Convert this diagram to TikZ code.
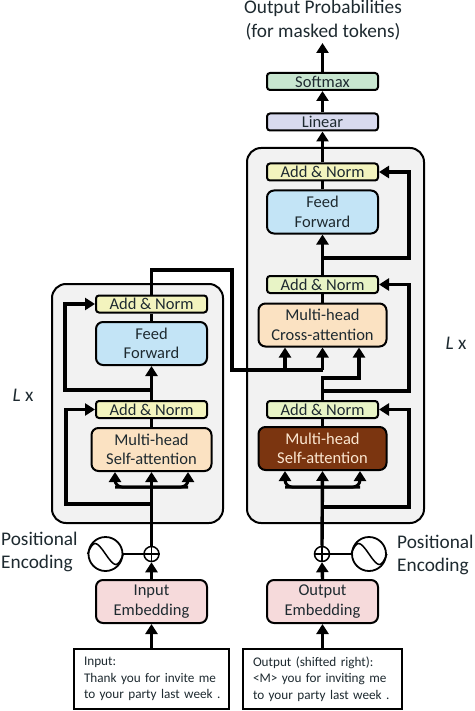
\documentclass[tikz,border=0pt]{standalone}
\usepackage{fontspec}
\setmainfont{Carlito}
\usetikzlibrary{arrows.meta}
\definecolor{contfill}{HTML}{F2F2F2}
\definecolor{anfillA}{HTML}{F3F4BE}
\definecolor{anfillB}{HTML}{E8F4C6}
\definecolor{ffill}{HTML}{C3E4F6}
\definecolor{afill}{HTML}{FBE2C2}
\definecolor{bfill}{HTML}{7B3510}
\definecolor{btext}{HTML}{FBE6D0}
\definecolor{efill}{HTML}{F6DADB}
\definecolor{sfill}{HTML}{C8E6D0}
\definecolor{lfill}{HTML}{D8DAEE}
\definecolor{ink}{HTML}{1E2A30}
\tikzset{
  box/.style={draw=black,line width=2pt,rounded corners=#1,inner sep=0pt,align=center,text=ink,
    font=\fontsize{16.5}{19.5}\selectfont},
  box/.default=7pt,
  sbox/.style={box=3pt,minimum width=111pt,minimum height=17pt},
  tbox/.style={box=7pt,minimum height=43pt},
  cont/.style={draw=black,line width=2pt,fill=contfill,rounded corners=14pt,inner sep=0pt},
  conn/.style={draw=black,line width=3.4pt},
  arr/.style={conn,-{Triangle[length=10pt,width=12pt]}},
  fork/.style={arr,line width=3pt,rounded corners=7pt},
  thin/.style={draw=black,line width=1.5pt},
  lab/.style={inner sep=0pt,text=ink,font=\fontsize{19.3}{23.5}\selectfont,align=left},
  inp/.style={draw=black,line width=1.6pt,fill=white,inner sep=0pt,align=left,text=ink,
    text width=#1,font=\fontsize{13.2}{16.3}\selectfont},
}
\begin{document}
\begin{tikzpicture}[x=1pt,y=-1pt]
\useasboundingbox (0,0) rectangle (474,711);
% containers
\node[cont,minimum width=171pt,minimum height=239pt] (contL) at (137.5,403.5) {};
\node[cont,minimum width=177pt,minimum height=375pt] (contR) at (335.5,335.5) {};
% left stack
\node[sbox,fill=anfillA] (anL2) at (151.5,304) {Add \& Norm};
\node[tbox,fill=ffill,minimum width=111pt] (ffL) at (151.5,343.5) {Feed\\Forward};
\node[sbox,fill=anfillA] (anL1) at (151.5,409.5) {Add \& Norm};
\node[tbox,fill=afill,minimum width=120pt] (saL) at (151.5,449.5) {Multi-head\\Self-attention};
\node[tbox,fill=efill,minimum width=111pt] (emL) at (151.5,601.5) {Input\\Embedding};
% right stack
\node[sbox,fill=sfill] (soft) at (322.5,81.5) {Softmax};
\node[sbox,fill=lfill] (lin) at (322.5,122) {Linear};
\node[sbox,fill=anfillA] (anR3) at (322.5,172) {Add \& Norm};
\node[tbox,fill=ffill,minimum width=111pt] (ffR) at (322.5,212) {Feed\\Forward};
\node[sbox,fill=anfillB] (anR2) at (322.5,284.5) {Add \& Norm};
\node[tbox,fill=afill,minimum width=128pt] (caR) at (322.5,325) {Multi-head\\Cross-attention};
\node[sbox,fill=anfillB] (anR1) at (322.5,409.5) {Add \& Norm};
\node[tbox,fill=bfill,minimum width=128pt,text=btext] (saR) at (322.5,448.5) {Multi-head\\Self-attention};
\node[tbox,fill=efill,minimum width=111pt] (emR) at (322.5,601.5) {Output\\Embedding};
% inputs
\node[inp=155pt,minimum height=60pt] (inL) at (151.5,679) {\hspace*{10pt}Input:\\\hspace*{10pt}Thank you for invite me\\\hspace*{10pt}to your party last week .};
\node[inp=159pt,minimum height=60pt] (inR) at (322.5,679) {\hspace*{10pt}Output (shifted right):\\\hspace*{10pt}<M> you for inviting me\\\hspace*{10pt}to your party last week .};
% positional encoding
\node[draw=black,line width=1.5pt,circle,fill=white,minimum size=15pt,inner sep=0pt] (plL) at (151.5,554) {};
\node[draw=black,line width=1.5pt,circle,fill=white,minimum size=15pt,inner sep=0pt] (plR) at (322,554) {};
\node[draw=black,line width=1.8pt,circle,fill=white,minimum size=34pt,inner sep=0pt] (sinL) at (105.5,554) {};
\node[draw=black,line width=1.8pt,circle,fill=white,minimum size=34pt,inner sep=0pt] (sinR) at (369,554) {};
% labels
\node[lab,anchor=west] (peL) at (1,552) {Positional\\Encoding};
\node[lab,anchor=west] (peR) at (397,555) {Positional\\Encoding};
\node[lab,anchor=center] (lxL) at (23,395) {\textit{L} x};
\node[lab,anchor=center] (lxR) at (456,343) {\textit{L} x};
\node[lab,align=center,anchor=center] (outp) at (323,20) {Output Probabilities\\(for masked tokens)};
% named bends
\coordinate (a1) at (151.5,504);
\coordinate (a2) at (66,504);
\coordinate (b1) at (151.5,390);
\coordinate (b2) at (65,390);
\coordinate (skA) at (151.5,270);
\coordinate (skB) at (232,270);
\coordinate (skC) at (232,370);
\coordinate (skD) at (322.5,370);
\coordinate (xa) at (285,370);
\coordinate (c1) at (322.5,378);
\coordinate (c2) at (359,378);
\coordinate (d1) at (322.5,391);
\coordinate (d2) at (409,391);
\coordinate (e1) at (322.5,507);
\coordinate (e2) at (409,507);
\coordinate (f1) at (322.5,258);
\coordinate (f2) at (409,258);
\coordinate (forkLl) at (115,487);
\coordinate (forkLr) at (188,487);
\coordinate (forkRl) at (285,487);
\coordinate (forkRr) at (360,487);
\coordinate (topEnd) at (322.5,43);
% left connectors
\draw[arr] (inL.north -| emL) -- (emL.south);
\draw[arr] (emL.north) -- (plL.south);
\draw[arr] (plL.north) -- (saL.south);
\draw[conn] (saL.north) -- (anL1.south);
\draw[arr] (anL1.north) -- (ffL.south);
\draw[conn] (ffL.north) -- (anL2.south);
\draw[arr] (a1) -- (a2) |- (anL1.west);
\draw[arr] (b1) -- (b2) |- (anL2.west);
\draw[fork] (forkLr) -- (forkLl) -- (forkLl |- saL.south);
\draw[fork] (forkLl) -- (forkLr) -- (forkLr |- saL.south);
% cross link
\draw[conn,line join=miter] (anL2.north) -- (skA) -- (skB) -- (skC) -- (skD);
\draw[arr] (xa) -- (xa |- caR.south);
\draw[arr] (skD) -- (skD |- caR.south);
\draw[arr,line join=miter] (anR1.north) -- (c1) -- (c2) -- (c2 |- caR.south);
% right connectors
\draw[arr] (inR.north -| emR) -- (emR.south);
\draw[arr] (emR.north) -- (plR.south);
\draw[arr] (plR.north) -- (saR.south);
\draw[conn] (saR.north) -- (anR1.south);
\draw[conn] (caR.north) -- (anR2.south);
\draw[arr] (anR2.north) -- (ffR.south);
\draw[conn] (ffR.north) -- (anR3.south);
\draw[arr] (anR3.north) -- (lin.south);
\draw[arr] (lin.north) -- (soft.south);
\draw[arr] (soft.north) -- (topEnd);
\draw[arr] (d1) -- (d2) |- (anR2.east);
\draw[arr] (e1) -- (e2) |- (anR1.east);
\draw[arr] (f1) -- (f2) |- (anR3.east);
\draw[fork] (forkRr) -- (forkRl) -- (forkRl |- saR.south);
\draw[fork] (forkRl) -- (forkRr) -- (forkRr |- saR.south);
% adders and oscillators
\draw[thin] (plL.west) -- (plL.east) (plL.north) -- (plL.south);
\draw[thin] (plR.west) -- (plR.east) (plR.north) -- (plR.south);
\draw[conn,line width=2.6pt] (sinL.east) -- (plL.west);
\draw[conn,line width=2.6pt] (plR.east) -- (sinR.west);
\draw[thin] (sinL.west) .. controls +(6,-15) and +(-9,-13) .. (sinL.center) .. controls +(9,13) and +(-6,15) .. (sinL.east);
\draw[thin] (sinR.west) .. controls +(6,-15) and +(-9,-13) .. (sinR.center) .. controls +(9,13) and +(-6,15) .. (sinR.east);
\end{tikzpicture}
\end{document}
